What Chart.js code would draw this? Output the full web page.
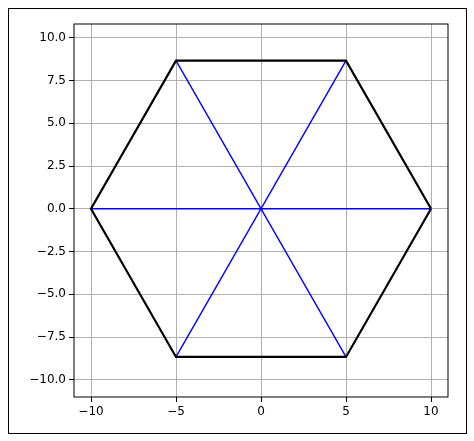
<!DOCTYPE html>
<html>
<head>
<meta charset="utf-8">
<script src="https://cdn.jsdelivr.net/npm/chart.js@4"></script>
<style>
  html, body { margin: 0; padding: 0; background: #fff; }
  #wrap { width: 474px; height: 441px; }
</style>
</head>
<body>
<div id="wrap"><canvas id="c" width="474" height="441"></canvas></div>
<script>
// Hexagon outline (closed) and spokes through the centre
const hexX = [10, 5, -5, -10, -5, 5, 10];
const hexY = [0, 8.66, 8.66, 0, -8.66, -8.66, 0];
const spokes = [
    { x: [-10, 10], y: [0, 0] },
    { x: [-5, 5], y: [-8.66, 8.66] },
    { x: [-5, 5], y: [8.66, -8.66] }
];
const xTicks = [-10, -5, 0, 5, 10];
const yTicks = [-10, -7.5, -5, -2.5, 0, 2.5, 5, 7.5, 10];

const toPts = (xs, ys) => xs.map((x, i) => ({ x: x, y: ys[i] }));
const fmt = v => (v < 0 ? '\u2212' : '') + Math.abs(v);
const fmtY = v => (v < 0 ? '\u2212' : '') + Math.abs(v).toFixed(1);

const datasets = [{
    data: toPts(hexX, hexY),
    showLine: true,
    borderColor: '#000',
    borderWidth: 2.2,
    pointRadius: 0
}];
spokes.forEach(s => datasets.push({
    data: toPts(s.x, s.y),
    showLine: true,
    borderColor: '#0000ff',
    borderWidth: 1.4,
    pointRadius: 0
}));

// Plot frame and outer figure border
const frame = {
    id: 'frame',
    afterDraw(chart) {
        const { ctx, chartArea: a } = chart;
        ctx.save();
        ctx.strokeStyle = '#000';
        ctx.lineWidth = 1;
        ctx.strokeRect(a.left, a.top, a.right - a.left, a.bottom - a.top);
        ctx.strokeRect(8.5, 8.5, 458, 425);
        ctx.restore();
    }
};

new Chart(document.getElementById('c'), {
    type: 'scatter',
    data: { datasets: datasets },
    plugins: [frame],
    options: {
        responsive: false,
        animation: false,
        layout: { padding: { top: 24, right: 26, left: 0, bottom: 0 } },
        plugins: { legend: { display: false }, tooltip: { enabled: false } },
        scales: {
            x: {
                min: -11, max: 11,
                afterBuildTicks: s => { s.ticks = xTicks.map(v => ({ value: v })); },
                afterFit: s => { s.height = 44; },
                grid: { color: '#b0b0b0', tickColor: '#000', tickLength: 5 },
                border: { display: false },
                ticks: { color: '#000', font: { family: 'DejaVu Sans', size: 12 }, padding: 3, callback: fmt, maxRotation: 0 }
            },
            y: {
                min: -11, max: 10.8,
                afterBuildTicks: s => { s.ticks = yTicks.map(v => ({ value: v })); },
                afterFit: s => { s.width = 74; },
                grid: { color: '#b0b0b0', tickColor: '#000', tickLength: 5 },
                border: { display: false },
                ticks: { color: '#000', font: { family: 'DejaVu Sans', size: 12 }, padding: 3, callback: fmtY }
            }
        }
    }
});
</script>
</body>
</html>
